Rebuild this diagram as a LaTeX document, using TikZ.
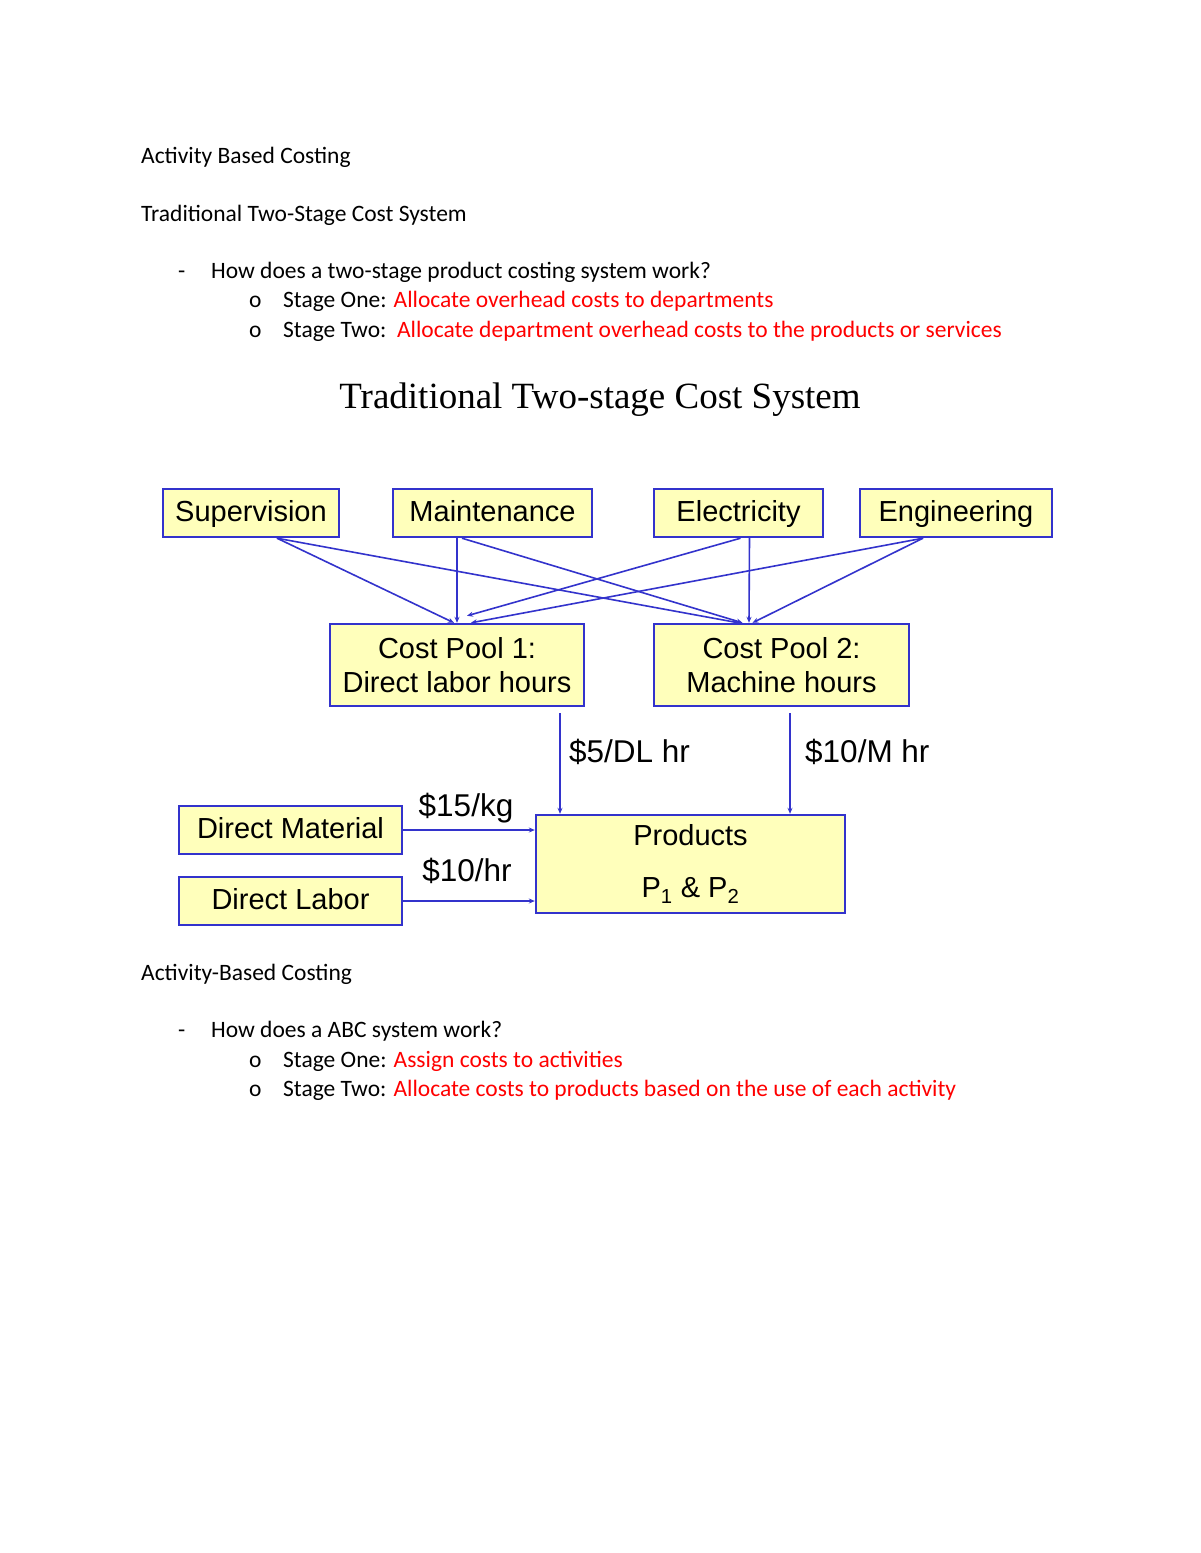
\documentclass[tikz,border=0pt]{standalone}
\usepackage{fontspec}
\setmainfont{Carlito}
\newfontfamily\arialf{Liberation Sans}
\newfontfamily\timesf{Liberation Serif}
\usetikzlibrary{arrows.meta}
\definecolor{boxfill}{RGB}{255,255,187}
\definecolor{boxline}{RGB}{51,51,204}
\definecolor{redtext}{RGB}{255,0,0}
\begin{document}
\begin{tikzpicture}[x=1pt,y=-1pt,
 body/.style={anchor=base west, inner sep=0, font=\fontsize{23.5}{28}\selectfont},
 box/.style={draw=boxline, line width=2.4pt, fill=boxfill, inner sep=0, align=center, font=\arialf\fontsize{29}{34}\selectfont},
 onebox/.style={box, text height=23pt, text depth=6pt, minimum height=48},
 conn/.style={draw=boxline, line width=1.6pt, -{Stealth[length=6pt,width=5pt]}},
 lab/.style={inner sep=0, font=\arialf\fontsize{31.5}{36}\selectfont}]
\useasboundingbox[fill=white] (0,0) rectangle (1200,1553);
% body text top
\node[body] (h1) at (141,163) {Activity Based Costing};
\node[body] (h2) at (141,221) {Traditional Two-Stage Cost System};
\node[body] (d1) at (178,278) {-};
\node[body] (q1) at (211,278) {How does a two-stage product costing system work?};
\node[body] (b1) at (249,307) {o};
\node[body] (s1) at (283,307) {Stage One: \textcolor{redtext}{Allocate overhead costs to departments}};
\node[body] (b2) at (249,337) {o};
\node[body] (s2) at (283,337) {Stage Two:\ \ \textcolor{redtext}{Allocate department overhead costs to the products or services}};
% title
\node[anchor=base, inner sep=0, font=\timesf\fontsize{37}{44}\selectfont] (title) at (600,408) {Traditional Two-stage Cost System};
% boxes
\node[onebox, minimum width=176] (sup) at (251,513) {Supervision};
\node[onebox, minimum width=199] (maint) at (492.5,513) {Maintenance};
\node[onebox, minimum width=169] (elec) at (738.5,513) {Electricity};
\node[onebox, minimum width=192] (eng) at (956,513) {Engineering};
\node[box, minimum width=254, minimum height=82] (cp1) at (457,665) {Cost Pool 1:\\Direct labor hours};
\node[box, minimum width=255, minimum height=82] (cp2) at (781.5,665) {Cost Pool 2:\\Machine hours};
\node[onebox, minimum width=223] (dm) at (290.5,830) {Direct Material};
\node[onebox, minimum width=223] (dl) at (290.5,901) {Direct Labor};
\node[box, minimum width=309, minimum height=98, font=\arialf\fontsize{29}{52}\selectfont] (prod) at (690.5,864) {Products\\P\textsubscript{1} \& P\textsubscript{2}};
% stage one connectors
\draw[conn] ([xshift=26]sup.south) -- ([xshift=-3]cp1.north);
\draw[conn] ([xshift=26]sup.south) -- ([xshift=-43]cp2.north);
\draw[conn] ([xshift=-35.5]maint.south) -- (cp1.north);
\draw[conn] ([xshift=-30.5]maint.south) -- ([xshift=-39]cp2.north);
\draw[conn] ([xshift=2]elec.south) -- ([xshift=10,yshift=7]cp1.north);
\draw[conn] ([xshift=11]elec.south) -- ([xshift=-32.5]cp2.north);
\draw[conn] ([xshift=-33]eng.south) -- ([xshift=14]cp1.north);
\draw[conn] ([xshift=-33]eng.south) -- ([xshift=-29]cp2.north);
% stage two connectors
\coordinate (c1) at ([xshift=103,yshift=-6]cp1.south);
\coordinate (c2) at ([xshift=8.5,yshift=-6]cp2.south);
\draw[conn] (c1) -- (c1 |- prod.north);
\draw[conn] (c2) -- (c2 |- prod.north);
\draw[conn] (dm.east) -- (dm.east -| prod.west);
\draw[conn] (dl.east) -- (dl.east -| prod.west);
\node[lab, anchor=west] (l1) at (569,752) {\$5/DL hr};
\node[lab, anchor=west] (l2) at (805,752) {\$10/M hr};
\node[lab] (l3) at (466,808) {\$15/kg};
\node[lab] (l4) at (467,871) {\$10/hr};
% body text bottom
\node[body] (h3) at (141,980) {Activity-Based Costing};
\node[body] (d2) at (178,1037) {-};
\node[body] (q2) at (211,1037) {How does a ABC system work?};
\node[body] (b3) at (249,1067) {o};
\node[body] (s3) at (283,1067) {Stage One: \textcolor{redtext}{Assign costs to activities}};
\node[body] (b4) at (249,1096) {o};
\node[body] (s4) at (283,1096) {Stage Two: \textcolor{redtext}{Allocate costs to products based on the use of each activity}};
\end{tikzpicture}
\end{document}
